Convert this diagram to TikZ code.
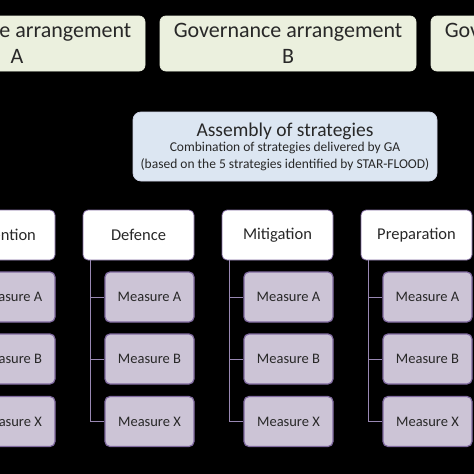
\documentclass[tikz,border=0pt]{standalone}
\usepackage{fontspec}
\setmainfont{Carlito}
\definecolor{govfill}{RGB}{235,240,222}
\definecolor{asmfill}{RGB}{220,230,242}
\definecolor{msrfill}{RGB}{204,196,214}
\definecolor{purpline}{RGB}{128,106,160}
\definecolor{txtgray}{RGB}{40,40,40}

\tikzset{every picture/.style={line width=0.75pt}}

\begin{document}
\begin{tikzpicture}[x=1pt,y=1pt,yscale=-1,xscale=1,
  govbox/.style={draw=govfill,fill=govfill,rounded corners=6pt,minimum width=256pt,minimum height=55pt,align=center,font=\fontsize{22}{26}\selectfont,text=txtgray,inner sep=0pt},
  asmbox/.style={draw=asmfill!85!purpline,fill=asmfill,rounded corners=8pt,minimum width=304pt,minimum height=69pt,align=center,inner sep=0pt,text=txtgray},
  stratbox/.style={draw=purpline,fill=white,rounded corners=5pt,minimum width=111pt,minimum height=50pt,font=\fontsize{16.5}{20}\selectfont,text=txtgray,inner sep=0pt},
  msrbox/.style={draw=purpline,fill=msrfill,line width=1.2pt,rounded corners=5pt,minimum width=89pt,minimum height=50pt,font=\fontsize{14.5}{16}\selectfont,text=txtgray,inner sep=0pt},
  branch/.style={draw=purpline!80!white,line width=1pt}]
\fill[black] (0,0) rectangle (474,474);
\clip (0,0) rectangle (474,474);

% governance arrangements
\node [govbox] (govA) at (17,43.5) {Governance arrangement\\A};
\node [govbox] (govB) at (288,43.5) {Governance arrangement\\B};
\node [govbox] (govC) at (559,43.5) {Governance arrangement\\C};

% assembly of strategies
\node [asmbox] (asm) at (285,146.5) {{\fontsize{19.5}{21}\selectfont Assembly of strategies}\\[2pt]
  {\fontsize{13.5}{16.5}\selectfont Combination of strategies delivered by GA}\\[3pt]
  {\fontsize{13.5}{16.5}\selectfont (based on the 5 strategies identified by STAR-FLOOD)}};

% strategies
\node [stratbox] (prev) at (-0.5,235) {Prevention};
\node [stratbox] (def) at (138.5,235) {Defence};
\node [stratbox] (mit) at (277.5,235) {Mitigation};
\node [stratbox] (prep) at (416.5,235) {Preparation};

% measures
\node [msrbox] (prevA) at (10.5,297) {Measure A};
\node [msrbox] (prevB) at (10.5,359) {Measure B};
\node [msrbox] (prevX) at (10.5,421.5) {Measure X};
\node [msrbox] (defA) at (149.5,297) {Measure A};
\node [msrbox] (defB) at (149.5,359) {Measure B};
\node [msrbox] (defX) at (149.5,421.5) {Measure X};
\node [msrbox] (mitA) at (288.5,297) {Measure A};
\node [msrbox] (mitB) at (288.5,359) {Measure B};
\node [msrbox] (mitX) at (288.5,421.5) {Measure X};
\node [msrbox] (prepA) at (427.5,297) {Measure A};
\node [msrbox] (prepB) at (427.5,359) {Measure B};
\node [msrbox] (prepX) at (427.5,421.5) {Measure X};

% branches
\draw [branch] ([xshift=8pt]def.south west) |- (defA.west);
\draw [branch] ([xshift=8pt]def.south west) |- (defB.west);
\draw [branch] ([xshift=8pt]def.south west) |- (defX.west);
\draw [branch] ([xshift=8pt]mit.south west) |- (mitA.west);
\draw [branch] ([xshift=8pt]mit.south west) |- (mitB.west);
\draw [branch] ([xshift=8pt]mit.south west) |- (mitX.west);
\draw [branch] ([xshift=8pt]prep.south west) |- (prepA.west);
\draw [branch] ([xshift=8pt]prep.south west) |- (prepB.west);
\draw [branch] ([xshift=8pt]prep.south west) |- (prepX.west);

\end{tikzpicture}
\end{document}
